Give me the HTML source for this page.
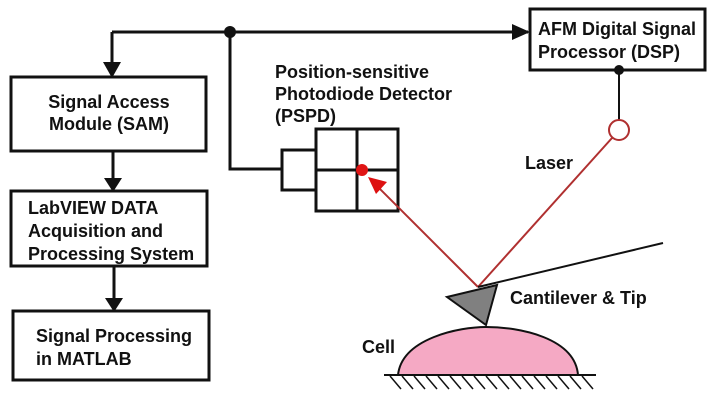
<!DOCTYPE html>
<html><head><style>body{margin:0;background:#fff}svg{display:block}text{font-family:"Liberation Sans",Arial,sans-serif;font-weight:bold;font-size:18px;fill:#111}</style></head>
<body>
<svg width="718" height="412" viewBox="0 0 718 412">
<g stroke="#111" stroke-width="3" fill="none">
<polyline points="112,32 528,32"/>
<polyline points="112,32 112,64"/>
<rect x="11" y="77" width="195" height="74" fill="#fff"/>
<line x1="113" y1="151" x2="113" y2="180"/>
<rect x="11" y="191" width="196" height="75" fill="#fff"/>
<line x1="114" y1="266" x2="114" y2="300"/>
<rect x="13" y="311" width="196" height="69" fill="#fff"/>
<rect x="530" y="9" width="175" height="61" fill="#fff"/>
<polyline points="230,32 230,169 282,169"/>
<rect x="282" y="150" width="34" height="40"/>
<rect x="316" y="129" width="82" height="82"/>
<line x1="357" y1="129" x2="357" y2="211"/>
<line x1="316" y1="170" x2="398" y2="170"/>
<line x1="619" y1="70" x2="619" y2="120" stroke-width="2"/>
</g>
<g fill="#111">
<polygon points="103,62 121,62 112,78"/>
<polygon points="104,178 122,178 113,192"/>
<polygon points="105,298 123,298 114,312"/>
<polygon points="512,24 512,40 530,32"/>
<circle cx="230" cy="32" r="6"/>
<circle cx="619" cy="70" r="5"/>
</g>
<g stroke="#b03030" stroke-width="2" fill="none">
<circle cx="619" cy="130" r="10" fill="#fff"/>
<line x1="612" y1="138" x2="478" y2="287"/>
<line x1="478" y1="287" x2="378" y2="187"/>
</g>
<polygon points="368,177 387,182 376,194" fill="#dd1111"/>
<circle cx="362" cy="170" r="6" fill="#e01515"/>
<line x1="478" y1="287" x2="663" y2="243" stroke="#111" stroke-width="2"/>
<polygon points="447,297 497,285 486,325" fill="#808080" stroke="#111" stroke-width="2"/>
<path d="M398,375 C402,338 460,327 486,327 C520,327 575,338 578,375 Z" fill="#f5a9c4" stroke="#111" stroke-width="2"/>
<line x1="384" y1="375" x2="596" y2="375" stroke="#111" stroke-width="2"/>
<g stroke="#111" stroke-width="1.5">
<line x1="390" y1="376" x2="401" y2="389"/><line x1="402" y1="376" x2="413" y2="389"/><line x1="414" y1="376" x2="425" y2="389"/><line x1="426" y1="376" x2="437" y2="389"/><line x1="438" y1="376" x2="449" y2="389"/><line x1="450" y1="376" x2="461" y2="389"/><line x1="462" y1="376" x2="473" y2="389"/><line x1="474" y1="376" x2="485" y2="389"/><line x1="486" y1="376" x2="497" y2="389"/><line x1="498" y1="376" x2="509" y2="389"/><line x1="510" y1="376" x2="521" y2="389"/><line x1="522" y1="376" x2="533" y2="389"/><line x1="534" y1="376" x2="545" y2="389"/><line x1="546" y1="376" x2="557" y2="389"/><line x1="558" y1="376" x2="569" y2="389"/><line x1="570" y1="376" x2="581" y2="389"/><line x1="582" y1="376" x2="593" y2="389"/>
</g>
<text x="109" y="108" text-anchor="middle">Signal Access</text>
<text x="109" y="130" text-anchor="middle">Module (SAM)</text>
<text x="28" y="214">LabVIEW DATA</text>
<text x="28" y="237">Acquisition and</text>
<text x="28" y="260">Processing System</text>
<text x="36" y="342">Signal Processing</text>
<text x="36" y="365">in MATLAB</text>
<text x="538" y="35">AFM Digital Signal</text>
<text x="538" y="58">Processor (DSP)</text>
<text x="275" y="78">Position-sensitive</text>
<text x="275" y="100">Photodiode Detector</text>
<text x="275" y="122">(PSPD)</text>
<text x="525" y="169">Laser</text>
<text x="510" y="304">Cantilever &amp; Tip</text>
<text x="362" y="353">Cell</text>
</svg>
</body></html>
